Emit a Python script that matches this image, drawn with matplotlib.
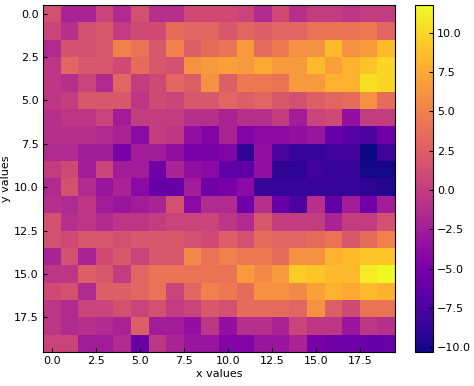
import numpy as np
import matplotlib
matplotlib.use("Agg")
import matplotlib.pyplot as plt

row00 = [1.5, -2, -2, 0.5, -1.5, 1.5, -1, -1, 1, 1, 1, 0.5, -1.5, 1, -1, 0, 0, -0.5, 0, 0]
row01 = [0.5, -1, 1.5, 2, 0, 1, 1, 3.5, 3, 3, 2, 3, 2.5, 3, 3, 4, 4, 4, 4.5, 3]
row02 = [-1.5, 1.5, 1.5, 2, 5, 4, 2, 5, 2.5, 3.5, 4, 6.5, 3.5, 4.5, 6, 6, 8.5, 6, 6.5, 8.5]
row03 = [-0.5, 3, 2, 2, 1, 3.5, 2, 1.5, 6, 6.5, 7, 6.5, 7.5, 6.5, 6.5, 8.5, 7, 8, 9, 10]
row04 = [-0.5, -1, 0.5, -1.5, 3, 0, 1, 3, 2.5, 6, 2.5, 4.5, 4.5, 4, 6.5, 6.5, 8, 8, 10.5, 10]
row05 = [-0.5, 0, 2, 2, 2, -0.5, 1, 0.5, 2, 2, 3, 2.5, 3, 2, 1.5, 2.5, 3, 3.5, 6, 3.5]
row06 = [-1, -0.5, -0.5, 0.5, -2.5, 0, 0, 0, -1, -1, -2, -1, -1, 0, -2.5, 0.5, 1, -3.5, 0, 0]
row07 = [-1, -1, -1, -1.5, -2, -4, 0, -0.5, -3.5, -4.5, -2, -4.5, -4, -4, -3.5, -3, -6, -7, -7.5, -5.5]
row08 = [-1.5, -1.5, -2.5, -2.5, -5, -2.5, -2.5, -3.5, -5, -5, -4.5, -9, -3.5, -7.5, -8.5, -8.5, -8, -8, -10.3, -8]
row09 = [0, 1, -2.5, 0.5, -2.5, -2.5, -5.5, -2, -3.5, -4, -6.5, -6.5, -3.5, -9, -9, -8, -8.5, -8.5, -10, -10]
row10 = [-1.5, 1.5, -1.5, -3, -2, -4, -6, -6, -2.5, -5.5, -5, -4, -8.5, -8.5, -8.5, -8.5, -8.5, -8.5, -9, -9.5]
row11 = [-1, -1.5, -0.5, -2.5, -3, -2.5, -2, 1.5, -4, -1.5, -1.5, -5.5, -1, -6, -7.5, -1, -6.5, -2.5, -5.5, -2.5]
row12 = [1.5, -1, -0.5, -1.5, -0.5, -0.5, 0, 0.5, 0.5, 0.5, -0.5, -1.5, 2, 0, 0, 0, -2, 0, 0, 1.5]
row13 = [1.5, 1, 2, 2, 1.5, 2, 2, 2, 1.5, 1, 2.5, 1.5, 3.5, 3, 3, 3.5, 4, 2, 3.5, 5]
row14 = [-2, 1.5, -2, 1, 2, 0.5, 2, 2, 5.5, 4, 5, 4.5, 4.5, 3.5, 6, 6, 8, 8.5, 9, 9]
row15 = [-0.5, -0.5, 2.5, 2, 0, 3, 4, 4, 4, 4, 4, 6.5, 5.5, 6.5, 9.5, 9, 8.5, 8.5, 11, 11.75]
row16 = [1, 1.5, -1.5, 2.5, 2.5, 3, 4, 0.5, 3, 5, 4.5, 3.5, 6, 6, 5.5, 7, 8, 7.5, 8.5, 8]
row17 = [-0.5, -1.5, 0.5, 0.5, 1.5, 0.5, 1.5, 0, 0.5, 2, 1.5, 3.5, 3.5, 3.5, 3, 6, 2.5, 1, 4, 4]
row18 = [-0.5, -1.5, -1, -1.5, -2, 2.5, -2.5, -2.5, -3.5, -0.5, -3.5, -1, -1, -2, 0.5, -0.5, -0.5, -3, -0.5, -1]
row19 = [0.5, 0.5, -2.5, -2.5, -1.5, -6, -0.5, -2, -3, -3, -4.5, -4.5, -3, -3, -2, -5, -5.5, -5.5, -6, -6]

z = np.array([row00, row01, row02, row03, row04, row05, row06, row07, row08, row09,
              row10, row11, row12, row13, row14, row15, row16, row17, row18, row19])

xlabel = "x values"
ylabel = "y values"

plt.rcParams['font.size'] = 8
plt.rcParams['xtick.direction'] = 'in'
plt.rcParams['ytick.direction'] = 'in'

fig = plt.figure(figsize=(4.74, 3.86), dpi=100)
ax = fig.add_axes([43/474, 1-352/386, (395-43)/474, (352-5)/386])
im = ax.imshow(z, cmap='plasma', interpolation='nearest', aspect='auto')
ax.set_xticks(np.arange(0, 20, 2.5))
ax.set_yticks(np.arange(0, 20, 2.5))
ax.set_xticklabels([f"{v:.1f}" for v in np.arange(0, 20, 2.5)])
ax.set_yticklabels([f"{v:.1f}" for v in np.arange(0, 20, 2.5)])
ax.set_xlabel(xlabel, labelpad=2)
ax.set_ylabel(ylabel, labelpad=2)
ax.tick_params(length=3, pad=3)

cax = fig.add_axes([415/474, 1-352/386, (433-415)/474, (352-5)/386])
cb = fig.colorbar(im, cax=cax)
cb.set_ticks([-10, -7.5, -5, -2.5, 0, 2.5, 5, 7.5, 10])
cb.ax.tick_params(direction='in', length=3, pad=3)
cb.ax.set_yticklabels([f"{v:.1f}".replace('-', '\u2212') for v in [-10, -7.5, -5, -2.5, 0, 2.5, 5, 7.5, 10]])

fig.savefig("out.png", dpi=100)
